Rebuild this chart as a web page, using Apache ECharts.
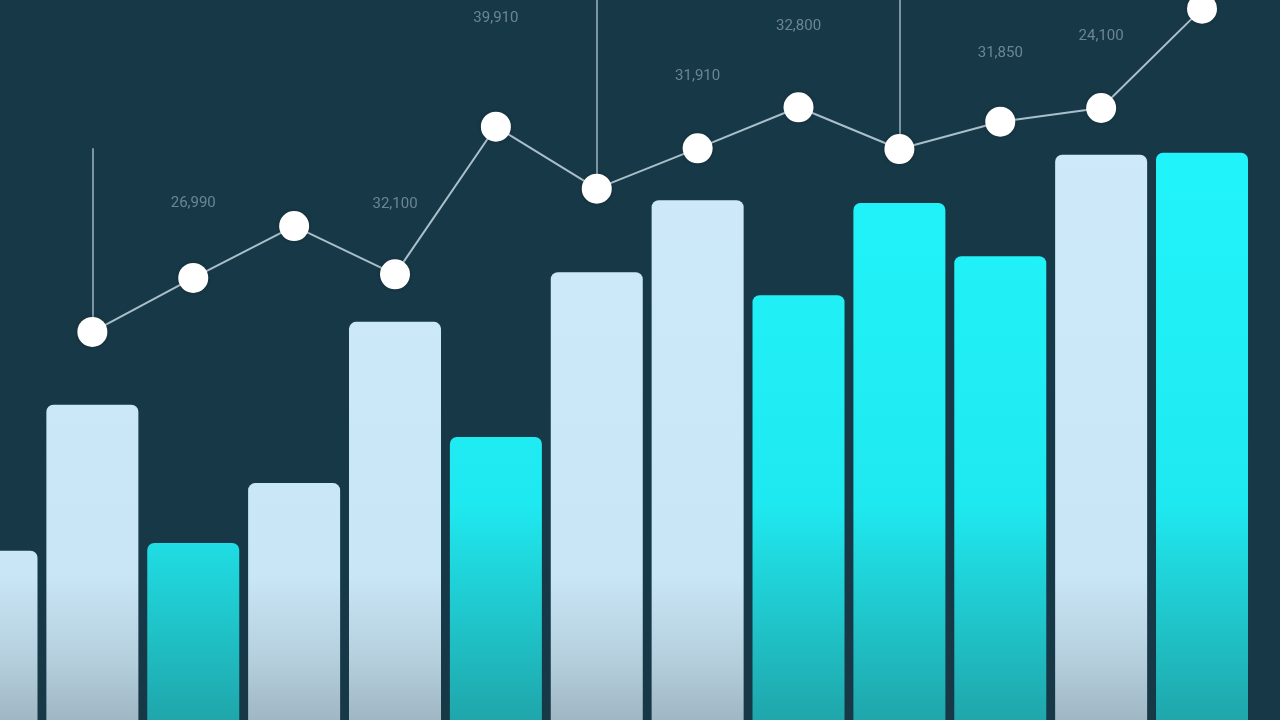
<!DOCTYPE html>
<html>
<head>
<meta charset="utf-8">
<script src="https://cdn.jsdelivr.net/npm/echarts@6/dist/echarts.min.js"></script>
<style>
html,body{margin:0;padding:0;background:#173847;}
#chart{width:1280px;height:720px;}
</style>
</head>
<body>
<div id="chart"></div>
<script>
// ---- data ----
var categories = ['P1','P2','P3','P4','P5','P6','P7','P8','P9','P10','P11','P12','P13'];
var barValues = [23.5, 43.8, 24.6, 32.9, 55.3, 39.3, 62.2, 72.2, 59.0, 71.8, 64.4, 78.5, 78.8];
var barKinds = ['light','light','cyan','light','light','cyan','light','light','cyan','cyan','cyan','light','cyan'];
var lineValues = [null, 53.9, 61.4, 68.6, 61.9, 82.4, 73.8, 79.4, 85.1, 79.3, 83.1, 85.0, 98.8];
var labelCats = ['P3','P5','P6','P8','P9','P11','P12'];
var labelHeights = [71.8, 71.7, 97.5, 89.4, 96.4, 92.6, 95.0];
var labelTexts = ['26,990','32,100','39,910','31,910','32,800','31,850','24,100'];
var guideCats = ['P2','P7','P10'];
var guideFrom = [53.9, 73.8, 79.3];
var guideTo = [79.4, 100, 100];

function idx(c){ return categories.indexOf(c); }

var lightGrad = new echarts.graphic.LinearGradient(0,0,0,720,[
  {offset:0,color:'#cfebfb'},{offset:0.8,color:'#c9e6f6'},{offset:0.92,color:'#b4cedc'},{offset:1,color:'#a0b7c4'}],true);
var cyanGrad = new echarts.graphic.LinearGradient(0,0,0,720,[
  {offset:0,color:'#22f8ff'},{offset:0.7,color:'#1fe9f0'},{offset:0.86,color:'#1fc6cb'},{offset:1,color:'#1fa6ab'}],true);

var chart = echarts.init(document.getElementById('chart'), null, {renderer:'canvas'});
chart.setOption({
  backgroundColor:'#173847',
  animation:false,
  grid:{left:0, right:0, top:0, bottom:0},
  xAxis:{type:'value', min:0.0843, max:12.773, show:false},
  yAxis:{type:'value', min:0, max:100, show:false},
  series:[
    {
      type:'bar',
      barWidth:92,
      data: barValues.map(function(v,i){
        return {value:[i,v], itemStyle:{color: barKinds[i]==='cyan'?cyanGrad:lightGrad}};
      }),
      itemStyle:{borderRadius:[7,7,0,0]},
      z:2
    },
    {
      type:'line',
      data: lineValues.map(function(v,i){ return v===null ? null : [i,v]; }).filter(function(d){return d;}),
      symbol:'circle',
      symbolSize:30,
      lineStyle:{color:'#a9bfca', width:2},
      itemStyle:{color:'#ffffff', shadowColor:'rgba(0,0,0,0.25)', shadowBlur:4},
      z:5,
      markLine:{
        silent:true,
        symbol:['none','none'],
        label:{show:false},
        lineStyle:{color:'#9fb5c0', width:1.5, type:'solid'},
        data: guideCats.map(function(c,i){ return [{coord:[idx(c),guideFrom[i]]},{coord:[idx(c),guideTo[i]]}]; })
      }
    },
    {
      type:'scatter',
      symbolSize:1,
      itemStyle:{color:'rgba(0,0,0,0)'},
      data: labelCats.map(function(c,i){ return {value:[idx(c),labelHeights[i]], name:labelTexts[i]}; }),
      label:{
        show:true, position:'inside',
        formatter:function(p){return p.name;},
        color:'#7f9aa9', fontSize:15, fontFamily:'Liberation Sans Narrow, Roboto, sans-serif'
      },
      z:4
    }
  ]
});
</script>
</body>
</html>
